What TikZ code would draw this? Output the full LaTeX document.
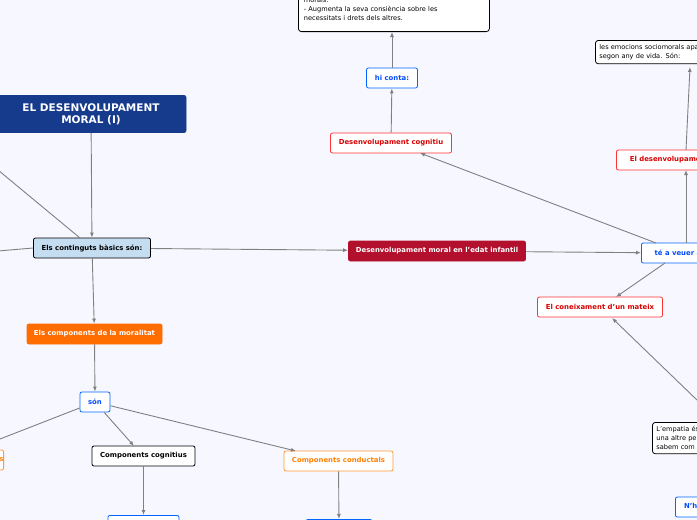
\documentclass[tikz,border=0pt]{standalone}
\usepackage{fontspec}
\setmainfont{DejaVu Sans}
\usetikzlibrary{arrows.meta}
\begin{document}
\begin{tikzpicture}[x=1pt,y=-1pt,
 box/.style={draw,rounded corners=2pt,line width=0.8pt,font=\bfseries\fontsize{6.9}{8}\selectfont,inner sep=0pt,minimum height=20pt,fill=white},
 txt/.style={draw=black,rounded corners=3pt,line width=0.8pt,font=\fontsize{6.6}{9}\selectfont,inner sep=4pt,align=left,fill=white},
 blu/.style={box,draw=blue!60!cyan,text=blue!70!cyan},
 redb/.style={box,draw=red!80,text=red!85!black},
 orb/.style={box,draw=orange!80,text=orange},
 ar/.style={draw=gray,line width=0.9pt,-{Latex[length=5pt,width=4pt]}},
 ln/.style={draw=gray,line width=0.9pt}]
\definecolor{titleblue}{HTML}{173B8C}
\definecolor{contfill}{HTML}{C4DDF0}
\definecolor{dmred}{HTML}{B3102E}
\useasboundingbox (0,0) rectangle (697,520);
\fill[blue!3!white] (0,0) rectangle (697,520);
\clip (0,0) rectangle (697,520);
\node[box,fill=titleblue,draw=titleblue,text=white,font=\bfseries\fontsize{10.5}{12}\selectfont,align=center,minimum width=190pt,minimum height=37pt] (title) at (91,114) {EL DESENVOLUPAMENT\\MORAL (I)};
\node[box,fill=contfill,draw=black,minimum width=117pt] (cont) at (92,248) {Els continguts bàsics són:};
\node[box,fill=dmred,draw=dmred,text=white,minimum width=177pt] (dm) at (437,251) {Desenvolupament moral en l'edat infantil};
\node[blu,minimum width=80pt,anchor=west] (te) at (641,253) {\hspace{8pt}té a veuer amb:\hfill};
\node[redb,minimum width=125pt] (con) at (600,307) {El coneixament d'un mateix};
\node[redb,minimum width=121pt] (dc) at (391,143) {Desenvolupament cognitiu};
\node[blu,minimum width=51pt] (hi) at (392,78) {hi conta:};
\node[txt,minimum width=191pt,minimum height=46pt,anchor=south west,text width=180pt] (top) at (298,32) {morals.\\- Augmenta la seva consiència sobre les\\necessitats i drets dels altres.};
\node[txt,anchor=north west,text width=170pt] (emo) at (595,40) {les emocions sociomorals apareixen al\\segon any de vida. Són:};
\node[redb,anchor=west,minimum width=140pt] (ed) at (616,160) {\hspace{8pt}El desenvolupament emocional\hfill};
\node[txt,anchor=north west,text width=160pt] (emp) at (652,422) {L'empatia és posar-se en el lloc d'\\una altre persona, és a dir\\sabem com se sent.};
\node[blu,anchor=west,minimum width=90pt] (nhi) at (675,507) {\hspace{8pt}N'hi ha de dos tipus:\hfill};
\node[box,fill=orange!85!red,draw=orange!85!red,text=white,minimum width=135pt] (comp) at (94.5,334) {Els components de la moralitat};
\node[blu,minimum width=30pt] (son) at (95,402) {són};
\node[orb,minimum width=60pt,anchor=east] (left) at (4,460) {Components afectius};
\node[box,draw=black,minimum width=103pt] (cc) at (143.5,456) {Components cognitius};
\node[orb,minimum width=109pt] (cd) at (338.5,461) {Components conductals};
\node[blu,minimum width=71pt,anchor=north] (b1) at (143.5,515) {};
\node[blu,minimum width=66pt,anchor=north] (b2) at (339,519) {};
\coordinate (l1) at (-2,170);
\coordinate (l2) at (-2,251);
\coordinate (l3) at (697,400);
\coordinate (dcin) at (420,153);
\draw[ln] (l1) -- (80,238);
\draw[ln] (l2) -- (cont.west);
\draw[ar] (title) -- (cont);
\draw[ar] (cont) -- (dm);
\draw[ar] (cont) -- (comp);
\draw[ar] (comp) -- (son);
\draw[ar] (son) -- (134,446);
\draw[ar] (son) -- (296,451);
\draw[ln] (son) -- (0,439);
\draw[ar] (cc) -- (b1);
\draw[ar] (cd) -- (b2);
\draw[ar] (dm) -- (te);
\draw[ar] (656,243) -- (dcin);
\draw[ar] (dc) -- (hi);
\draw[ar] (hi) -- (top.south -| hi);
\draw[ar] (686,243) -- (686,170);
\draw[ar] (686,150) -- (690,67);
\draw[ar] (665,263) -- (616,297);
\draw[ar] (l3) -- (612,318);
\end{tikzpicture}
\end{document}
